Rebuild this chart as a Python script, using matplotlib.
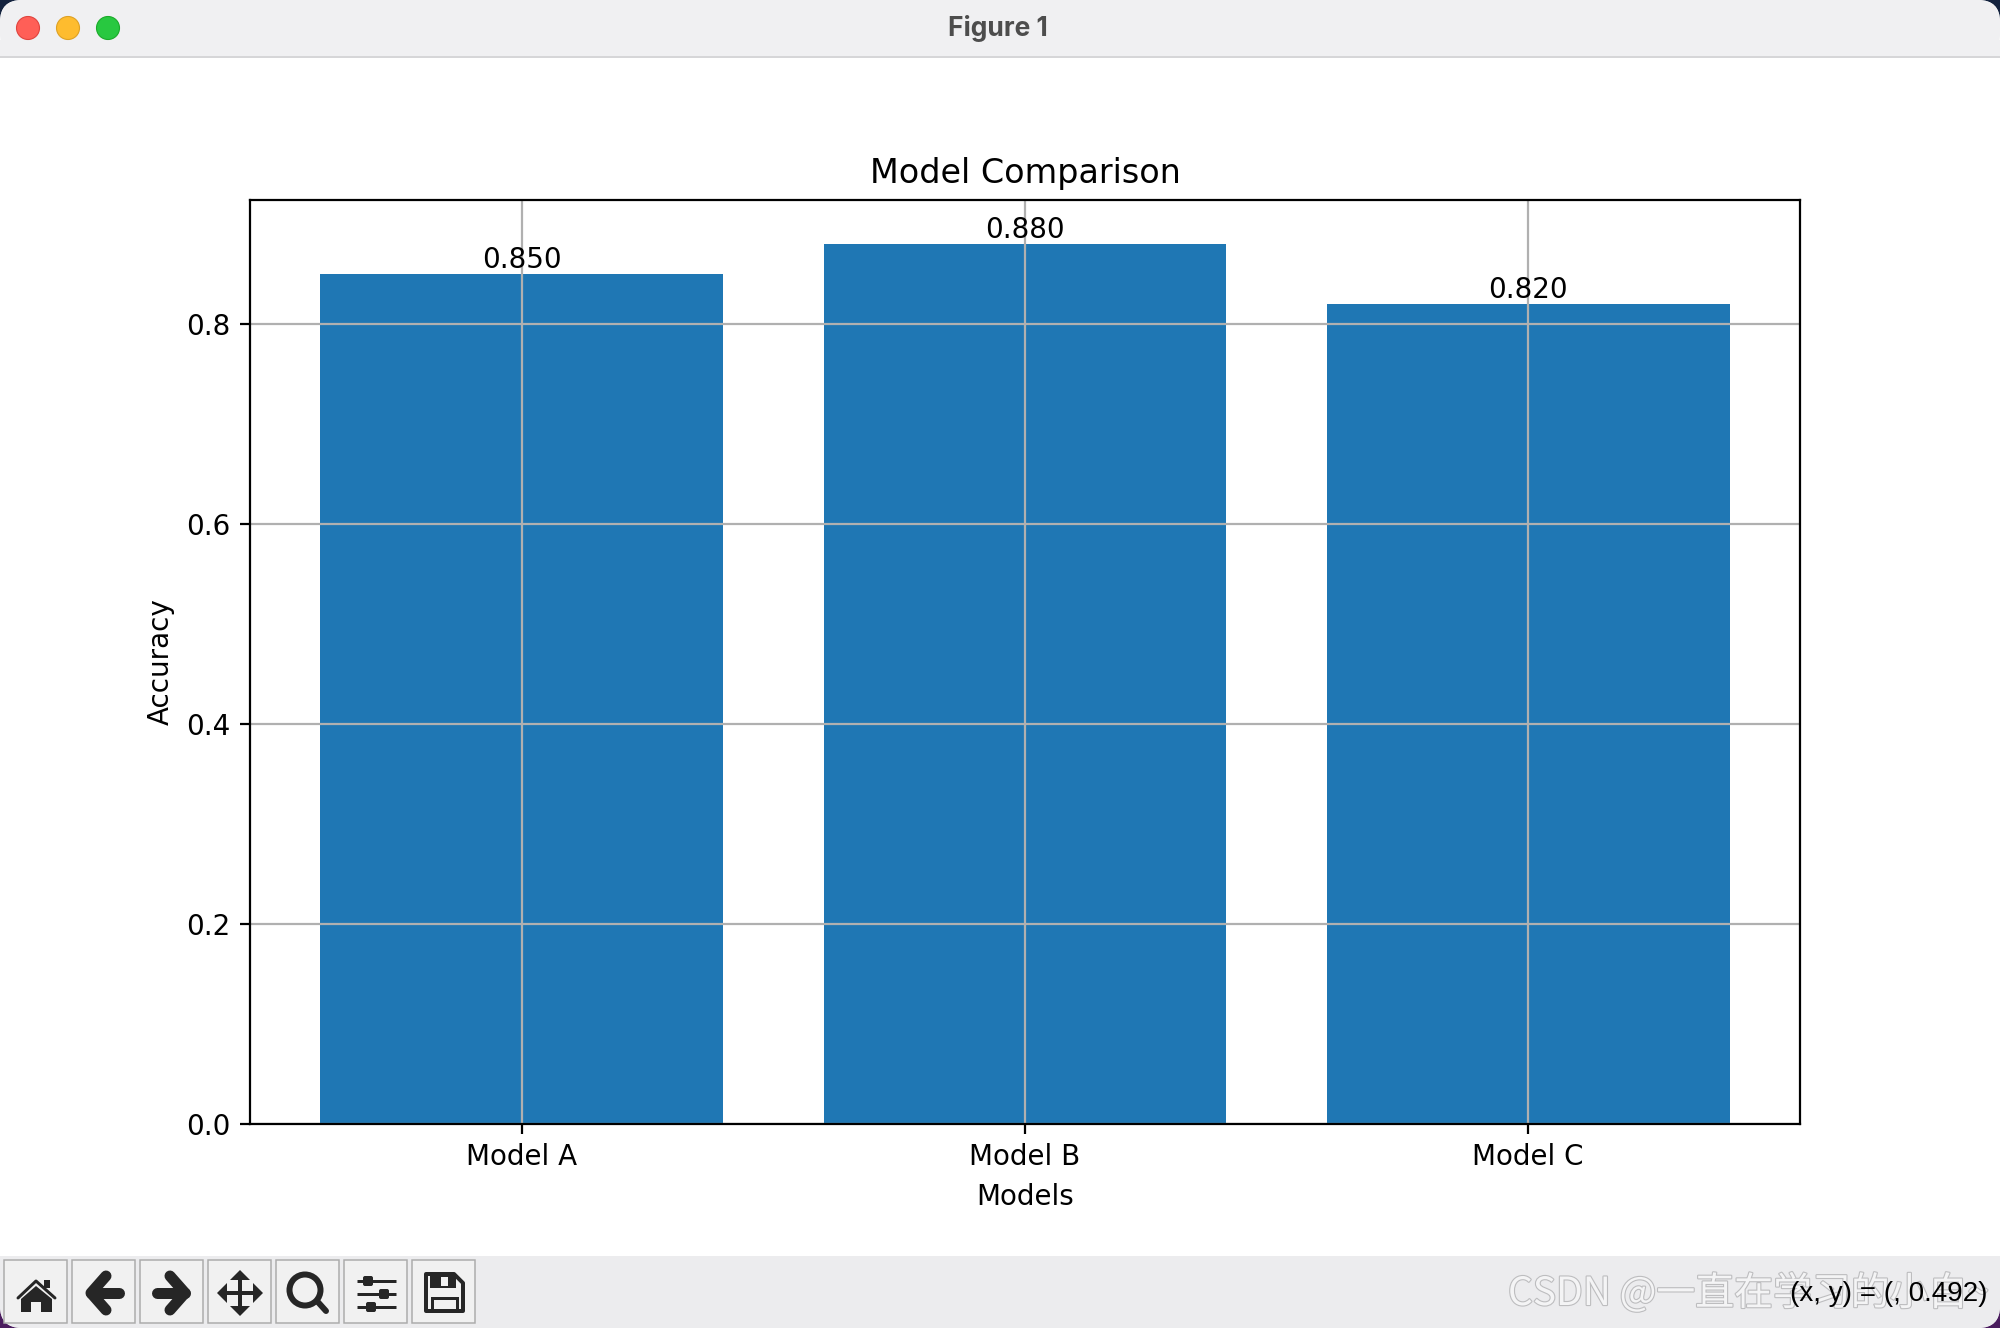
import matplotlib
matplotlib.use('Agg')
import matplotlib.pyplot as plt
import matplotlib.patheffects as pe
from matplotlib.patches import Circle, FancyBboxPatch, Polygon, Rectangle

models = ['Model A', 'Model B', 'Model C']
accuracy = [0.85, 0.88, 0.82]
y_ticks = [0.0, 0.2, 0.4, 0.6, 0.8]
window_title = 'Figure 1'
coord_text = '(x, y) = (, 0.492)'
watermark = 'CSDN @一直在学习的小白~'

W, H = 2000, 1328
DARK = '#262626'


def lw(px):
    # line width in points from a width in image pixels
    return px * 72 / 200


def stroke(ax, xs, ys, width, color=DARK, cap='round', join='round'):
    ax.plot(xs, ys, color=color, lw=lw(width), solid_capstyle=cap, solid_joinstyle=join)


def draw_chrome(ax):
    ax.set_xlim(0, W)
    ax.set_ylim(H, 0)
    ax.axis('off')

    # corners of the desktop behind the rounded window
    ax.add_patch(Rectangle((0, 0), 30, 30, color='#14233f', lw=0))
    ax.add_patch(Rectangle((W - 30, 0), 30, 30, color='#14233f', lw=0))
    ax.add_patch(Rectangle((0, H - 30), 30, 30, color='#4a1c5e', lw=0))
    ax.add_patch(Rectangle((W - 30, H - 30), 30, 30, color='#4a1c5e', lw=0))
    ax.add_patch(FancyBboxPatch((22, 22), W - 44, H - 44, boxstyle='round,pad=22,rounding_size=22',
                                fc='#ffffff', ec='none', lw=0))

    # title bar
    ax.add_patch(FancyBboxPatch((22, 22), W - 44, 12, boxstyle='round,pad=22,rounding_size=22',
                                fc='#f0f0f2', ec='none', lw=0))
    ax.add_patch(Rectangle((0, 40), W, 16, color='#f0f0f2', lw=0))
    ax.add_patch(Rectangle((0, 56), W, 1.5, color='#d6d6d8', lw=0))
    for cx, fc, ec in [(28, '#ff5f57', '#e0443e'), (68, '#febc2e', '#dea123'), (108, '#28c840', '#1aab29')]:
        ax.add_patch(Circle((cx, 28), 11.5, fc=fc, ec=ec, lw=0.4))
    ax.text(998, 29, window_title, ha='center', va='center', fontsize=9.5, fontweight='bold',
            color='#4d4d4d', family='Inter')

    # toolbar
    ax.add_patch(FancyBboxPatch((22, 1278), W - 44, 28, boxstyle='round,pad=22,rounding_size=22',
                                fc='#ececee', ec='none', lw=0))
    ax.add_patch(Rectangle((0, 1256), W, 30, color='#ececee', lw=0))
    for i in range(7):
        x0 = 4 + i * 68
        ax.add_patch(Rectangle((x0, 1260), 63, 63, fc='#f1f1f1', ec='#ababab', lw=lw(1.5)))

    # home
    stroke(ax, [18, 36, 55], [1298, 1281, 1298], 3)
    ax.add_patch(Polygon([(36, 1286), (52, 1299), (52, 1312), (41, 1312), (41, 1302), (31, 1302),
                          (31, 1312), (21, 1312), (21, 1299)], fc=DARK, lw=0))
    ax.add_patch(Rectangle((44, 1280), 6, 8, fc=DARK, lw=0))

    # back / forward
    stroke(ax, [106, 91, 106], [1276, 1293, 1310], 11)
    stroke(ax, [91, 119], [1293, 1293], 11)
    stroke(ax, [170, 185, 170], [1276, 1293, 1310], 11)
    stroke(ax, [157, 185], [1293, 1293], 11)

    # pan
    stroke(ax, [240, 240], [1275, 1312], 4)
    stroke(ax, [221, 259], [1293, 1293], 4)
    ax.add_patch(Polygon([(240, 1270), (250, 1280), (230, 1280)], fc=DARK, lw=0))
    ax.add_patch(Polygon([(240, 1316), (250, 1306), (230, 1306)], fc=DARK, lw=0))
    ax.add_patch(Polygon([(217, 1293), (227, 1283), (227, 1303)], fc=DARK, lw=0))
    ax.add_patch(Polygon([(263, 1293), (253, 1283), (253, 1303)], fc=DARK, lw=0))

    # zoom
    ax.add_patch(Circle((305, 1290), 15.5, fc='none', ec=DARK, lw=lw(6)))
    stroke(ax, [317, 326], [1301, 1311], 6)

    # sliders
    for y, kx in [(1281, 368), (1294, 384), (1307, 371)]:
        stroke(ax, [357, 396], [y, y], 3, cap='butt')
        ax.add_patch(FancyBboxPatch((kx - 3, y - 3), 6, 6, boxstyle='round,pad=2,rounding_size=2', fc=DARK, lw=0))

    # save
    ax.add_patch(Polygon([(426, 1274), (454, 1274), (463, 1283), (463, 1311), (426, 1311)],
                         fc='none', ec=DARK, lw=lw(4), joinstyle='round'))
    ax.add_patch(Polygon([(430, 1275), (456, 1275), (456, 1288), (430, 1288)], fc=DARK, lw=0))
    ax.add_patch(Rectangle((441, 1277), 7, 9, fc='#f1f1f1', lw=0))
    ax.add_patch(Rectangle((432, 1298), 25, 13, fc='none', ec=DARK, lw=lw(3)))

    # watermark under the coordinate readout
    ax.text(1508, 1294, watermark, ha='left', va='center', fontsize=14, color='#f4f4f5',
            family=['Noto Sans CJK SC', 'DejaVu Sans'],
            path_effects=[pe.withStroke(linewidth=0.8, foreground='#bdbdbf')])
    ax.text(1988, 1294, coord_text, ha='right', va='center', fontsize=10, color='black',
            family='Liberation Sans')


fig = plt.figure(figsize=(10, 6.64), dpi=200)

chrome = fig.add_axes([0, 0, 1, 1], zorder=0)
draw_chrome(chrome)

ax = fig.add_axes([250 / W, 1 - 1124 / H, 1550 / W, 924 / H], zorder=1)
bars = ax.bar(models, accuracy)
for rect, val in zip(bars, accuracy):
    ax.text(rect.get_x() + rect.get_width() / 2, val, f'{val:.3f}', ha='center', va='bottom')
ax.set_title('Model Comparison')
ax.set_xlabel('Models')
ax.set_ylabel('Accuracy')
ax.set_yticks(y_ticks)
ax.grid(True)

fig.savefig('out.png', dpi=200)
